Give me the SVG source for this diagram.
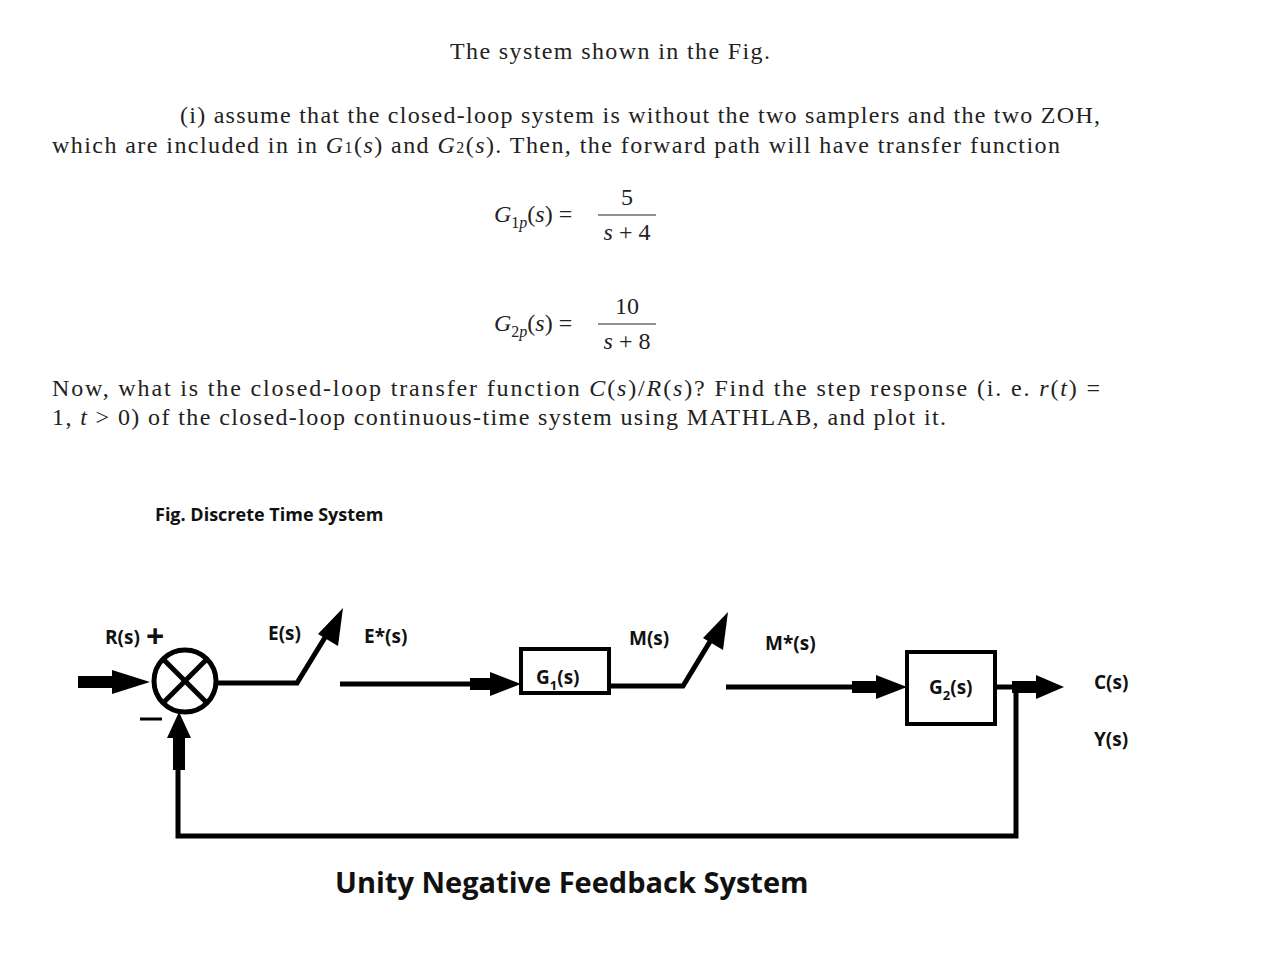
<svg xmlns="http://www.w3.org/2000/svg" width="1278" height="972" viewBox="0 0 1278 972">
<style>
.t{font-family:"Liberation Serif",serif;font-size:24px;fill:#222}
.i{font-style:italic}
.l{font-family:"Open Sans","Liberation Sans",sans-serif;font-weight:bold;fill:#111}
.w{stroke:#000;stroke-width:5;fill:none}
.a{fill:#000}
</style>
<rect width="1278" height="972" fill="#fff"/>
<g id="text">
<text class="t" x="450" y="59" textLength="320" lengthAdjust="spacing">The system shown in the Fig.</text>
<text class="t" x="180" y="123" textLength="920" lengthAdjust="spacing">(i) assume that the closed-loop system is without the two samplers and the two ZOH,</text>
<text class="t" x="52" y="153" textLength="1008" lengthAdjust="spacing">which are included in in <tspan class="i">G</tspan><tspan font-size="16">1</tspan>(<tspan class="i">s</tspan>) and <tspan class="i">G</tspan><tspan font-size="16">2</tspan>(<tspan class="i">s</tspan>). Then, the forward path will have transfer function</text>
<text class="t" x="494" y="222"><tspan class="i">G</tspan><tspan font-size="16" dy="6">1<tspan class="i">p</tspan></tspan><tspan dy="-6">(</tspan><tspan class="i">s</tspan>) =</text>
<text class="t" x="627" y="205" text-anchor="middle">5</text>
<line x1="598" y1="215" x2="656" y2="215" stroke="#222" stroke-width="1.2"/>
<text class="t" x="627" y="240" text-anchor="middle"><tspan class="i">s</tspan> + 4</text>
<text class="t" x="494" y="331"><tspan class="i">G</tspan><tspan font-size="16" dy="6">2<tspan class="i">p</tspan></tspan><tspan dy="-6">(</tspan><tspan class="i">s</tspan>) =</text>
<text class="t" x="627" y="314" text-anchor="middle">10</text>
<line x1="598" y1="324" x2="656" y2="324" stroke="#222" stroke-width="1.2"/>
<text class="t" x="627" y="349" text-anchor="middle"><tspan class="i">s</tspan> + 8</text>
<text class="t" x="52" y="396" textLength="1048" lengthAdjust="spacing">Now, what is the closed-loop transfer function <tspan class="i">C</tspan>(<tspan class="i">s</tspan>)/<tspan class="i">R</tspan>(<tspan class="i">s</tspan>)? Find the step response (i. e. <tspan class="i">r</tspan>(<tspan class="i">t</tspan>) =</text>
<text class="t" x="52" y="425" textLength="894" lengthAdjust="spacing">1, <tspan class="i">t</tspan> &gt; 0) of the closed-loop continuous-time system using MATHLAB, and plot it.</text>
<text class="l" x="155" y="521" font-size="18">Fig. Discrete Time System</text>
<text class="l" x="335" y="893" font-size="29">Unity Negative Feedback System</text>
</g>
<g id="labels" class="l" font-size="19">
<text x="105" y="644">R(s)</text>
<text x="146" y="648" font-size="32">+</text>
<line x1="140" y1="719" x2="162" y2="719" stroke="#000" stroke-width="3"/>
<text x="268" y="640">E(s)</text>
<text x="364" y="643">E*(s)</text>
<text x="629" y="645">M(s)</text>
<text x="765" y="650">M*(s)</text>
<text x="1094" y="689">C(s)</text>
<text x="1094" y="746">Y(s)</text>
</g>
<g id="sum">
<circle cx="185" cy="681" r="31" stroke="#000" stroke-width="5" fill="#fff"/>
<line x1="163" y1="659" x2="207" y2="703" stroke="#000" stroke-width="5"/>
<line x1="207" y1="659" x2="163" y2="703" stroke="#000" stroke-width="5"/>
</g>
<g id="G1">
<rect x="521" y="649" width="88" height="44" stroke="#000" stroke-width="4" fill="#fff"/>
<text class="l" x="536" y="684" font-size="19">G<tspan font-size="13" dy="6">1</tspan><tspan dy="-6">(s)</tspan></text>
</g>
<g id="G2">
<rect x="907" y="652" width="88" height="72" stroke="#000" stroke-width="4" fill="#fff"/>
<text class="l" x="929" y="694" font-size="19">G<tspan font-size="13" dy="6">2</tspan><tspan dy="-6">(s)</tspan></text>
</g>
<g id="connectors">
<line x1="78" y1="682" x2="118" y2="682" stroke="#000" stroke-width="12"/>
<polygon class="a" points="112,670 150,682 112,694"/>
<polyline class="w" points="217,683 297,683 332,626"/>
<polygon class="a" points="343,608 338,646 318,634"/>
<line class="w" x1="340" y1="684" x2="480" y2="684"/>
<line x1="470" y1="684" x2="495" y2="684" stroke="#000" stroke-width="12"/>
<polygon class="a" points="490,672 521,684 490,696"/>
<polyline class="w" points="609,686 683,686 717,630"/>
<polygon class="a" points="728,612 723,650 703,638"/>
<line class="w" x1="726" y1="687" x2="860" y2="687"/>
<line x1="852" y1="687" x2="880" y2="687" stroke="#000" stroke-width="12"/>
<polygon class="a" points="876,675 907,687 876,699"/>
<line class="w" x1="995" y1="687" x2="1015" y2="687"/>
<line x1="1012" y1="687" x2="1040" y2="687" stroke="#000" stroke-width="12"/>
<polygon class="a" points="1036,675 1064,687 1036,699"/>
<polyline class="w" points="1016,687 1016,836 178,836 178,745"/>
<line x1="179" y1="770" x2="179" y2="730" stroke="#000" stroke-width="12"/>
<polygon class="a" points="167,738 179,712 191,738"/>
</g>
</svg>
